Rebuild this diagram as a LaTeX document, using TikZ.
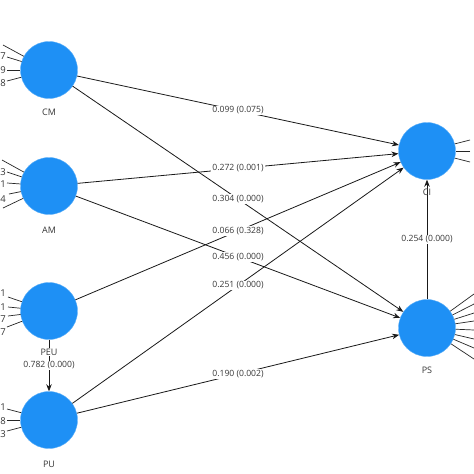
\documentclass[tikz,border=0pt]{standalone}
\usepackage{fontspec}
\setmainfont{Open Sans}
\usetikzlibrary{arrows.meta}
\definecolor{lvblue}{RGB}{30,144,245}
\definecolor{txt}{RGB}{55,55,55}
\begin{document}
\begin{tikzpicture}[x=1pt,y=-1pt,
  lv/.style={circle, fill=lvblue, draw=lvblue!70, line width=0.4pt, minimum size=57pt, inner sep=0pt},
  pathar/.style={draw=black!90, line width=0.8pt, -{Stealth[length=7pt,width=5.5pt]}},
  coef/.style={fill=white, inner sep=1pt, font=\fontsize{8.6}{10}\selectfont, text=txt},
  lvname/.style={font=\fontsize{9}{10}\selectfont, text=txt, inner sep=1pt},
  ind/.style={draw=black!85, line width=0.7pt},
  dg/.style={font=\fontsize{9.5}{10}\selectfont, text=txt, anchor=east, inner sep=0pt}
]
\useasboundingbox (0,0) rectangle (474,474);
\clip (0,0) rectangle (474,474);
\fill[white] (0,0) rectangle (474,474);

% latent variables
\node[lv] (CM) at (49,70) {};
\node[lv] (AM) at (49,186) {};
\node[lv] (PEU) at (49,311) {};
\node[lv] (PU) at (49,420) {};
\node[lv] (CI) at (427,151) {};
\node[lv] (PS) at (427,328) {};

% indicator stubs (left)
\coordinate (cm1) at (3,45);  \coordinate (cm2) at (7,57);
\coordinate (cm3) at (7,70);  \coordinate (cm4) at (7,81);
\foreach \c in {cm1,cm2,cm3,cm4} \draw[ind] (\c) -- (CM);
\node[dg] (dcm2) at (6,56) {7};
\node[dg] (dcm3) at (6,70) {9};
\node[dg] (dcm4) at (6,83) {8};

\coordinate (am1) at (2,160);  \coordinate (am2) at (7,172);
\coordinate (am3) at (7,183);  \coordinate (am4) at (9,194);
\coordinate (am5) at (3,208);
\foreach \c in {am1,am2,am3,am4,am5} \draw[ind] (\c) -- (AM);
\node[dg] (dam2) at (6,172) {3};
\node[dg] (dam3) at (6,184) {1};
\node[dg] (dam4) at (6,199) {4};

\coordinate (peu1) at (8,297);  \coordinate (peu2) at (8,307);
\coordinate (peu3) at (8,316);  \coordinate (peu4) at (7,327);
\foreach \c in {peu1,peu2,peu3,peu4} \draw[ind] (\c) -- (PEU);
\node[dg] (dpeu1) at (6,293) {1};
\node[dg] (dpeu2) at (6,307) {1};
\node[dg] (dpeu3) at (6,319) {7};
\node[dg] (dpeu4) at (6,332) {7};

\coordinate (pu1) at (7,409);  \coordinate (pu2) at (7,420);
\coordinate (pu3) at (7,431);
\foreach \c in {pu1,pu2,pu3} \draw[ind] (\c) -- (PU);
\node[dg] (dpu1) at (6,407) {1};
\node[dg] (dpu2) at (6,421) {8};
\node[dg] (dpu3) at (6,434) {3};

% indicator stubs (right)
\coordinate (ci1) at (470,140); \coordinate (ci2) at (470,151);
\coordinate (ci3) at (470,162);
\foreach \c in {ci1,ci2,ci3} \draw[ind] (\c) -- (CI);

\coordinate (ps1) at (474,294); \coordinate (ps2) at (474,304);
\coordinate (ps3) at (474,313); \coordinate (ps4) at (474,321);
\coordinate (ps5) at (474,330); \coordinate (ps6) at (474,339);
\coordinate (ps7) at (474,348); \coordinate (ps8) at (474,359);
\foreach \c in {ps1,ps2,ps3,ps4,ps5,ps6,ps7,ps8} \draw[ind] (\c) -- (PS);

% structural paths
\draw[pathar] (CM) -- node[coef] (l1) {0.099 (0.075)} (CI);
\draw[pathar] (CM) -- node[coef] (l2) {0.304 (0.000)} (PS);
\draw[pathar] (AM) -- node[coef] (l3) {0.272 (0.001)} (CI);
\draw[pathar] (AM) -- node[coef] (l4) {0.456 (0.000)} (PS);
\draw[pathar] (PEU) -- node[coef] (l5) {0.066 (0.328)} (CI);
\draw[pathar] (PU) -- node[coef] (l6) {0.251 (0.000)} (CI);
\draw[pathar] (PU) -- node[coef] (l7) {0.190 (0.002)} (PS);
\draw[pathar] (PS) -- node[coef] (l8) {0.254 (0.000)} (CI);
\draw[pathar] (PEU) -- node[coef, pos=0.5] (l9) {0.782 (0.000)} (PU);

% names
\node[lvname] (nCM) at (49,112) {CM};
\node[lvname] (nAM) at (49,230) {AM};
\node[lvname, fill=white] (nPEU) at (49,352) {PEU};
\node[lvname] (nPU) at (49,464) {PU};
\node[lvname] (nCI) at (427,192) {CI};
\node[lvname] (nPS) at (427,370) {PS};
\end{tikzpicture}
\end{document}
